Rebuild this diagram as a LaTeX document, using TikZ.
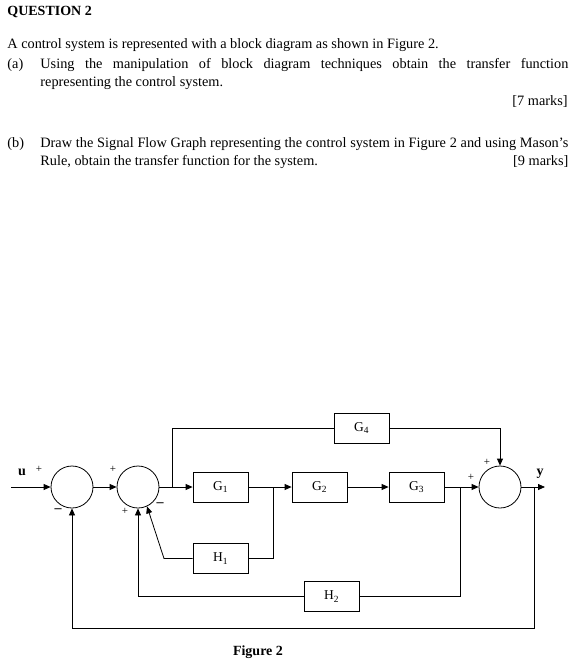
\documentclass[tikz,border=0pt]{standalone}
\usepackage{fontspec}
\setmainfont{Liberation Serif}
\usetikzlibrary{arrows.meta}

\begin{document}
\begin{tikzpicture}[x=1pt,y=-1pt,line width=0.8pt,
    >={Triangle[length=7pt,width=6pt]},
    txt/.style={anchor=base west,inner sep=0pt,font=\fontsize{14.3}{18.5}\selectfont},
    sumpt/.style={draw,circle,minimum size=42pt,inner sep=0pt},
    block/.style={draw,minimum width=55pt,minimum height=30pt,inner sep=0pt,font=\fontsize{13.5}{15}\selectfont},
    sign/.style={inner sep=0pt,font=\fontsize{11}{12}\selectfont},
    minus/.style={inner sep=0pt,font=\fontsize{14}{16}\selectfont\bfseries}]
  \useasboundingbox (0,0) rectangle (575,665);

  % question text
  \node[txt,font=\fontsize{14}{18}\selectfont\bfseries] (title) at (7,15) {QUESTION 2};
  \node[txt] (intro) at (7,48) {A control system is represented with a block diagram as shown in Figure 2.};
  \node[txt] (lbla) at (7,68) {(a)};
  \node[txt,text width=528pt,align=justify] (parta) at (40,68)
    {Using the manipulation of block diagram techniques obtain the transfer function\linebreak representing the control system.};
  \node[txt,anchor=base east] (marka) at (568,105) {[7 marks]};
  \node[txt] (lblb) at (7,147) {(b)};
  \node[txt,text width=528pt,align=justify] (partb) at (40,147)
    {Draw the Signal Flow Graph representing the control system in Figure 2 and using Mason’s\linebreak Rule, obtain the transfer function for the system.\hfill[9 marks]};

  % block diagram
  \node[sumpt] (s1) at (72,487) {};
  \node[sumpt] (s2) at (138,487) {};
  \node[sumpt] (s3) at (500,487) {};
  \node[block] (g1) at (220.5,487) {G\textsubscript{1}};
  \node[block] (g2) at (319.5,487) {G\textsubscript{2}};
  \node[block] (g3) at (416.5,487) {G\textsubscript{3}};
  \node[block] (g4) at (361.5,428) {G\textsubscript{4}};
  \node[block] (h1) at (220.5,558.5) {H\textsubscript{1}};
  \node[block] (h2) at (331.5,596.5) {H\textsubscript{2}};

  \coordinate (u) at (11,487);
  \coordinate (y) at (545,487);
  \coordinate (p1) at (172,487);
  \coordinate (p2) at (273,487);
  \coordinate (p3) at (460,487);
  \coordinate (p4) at (534,487);
  \coordinate (k1) at (164,558.5);
  \coordinate (k2) at (534,628);

  \draw[->] (u) -- (s1);
  \draw[->] (s1) -- (s2);
  \draw[->] (s2) -- (g1);
  \draw[->] (g1) -- (g2);
  \draw[->] (g2) -- (g3);
  \draw[->] (g3) -- (s3);
  \draw[->] (s3) -- (y);
  \draw (p1) |- (g4.west);
  \draw[->] (g4.east) -| (s3.north);
  \draw (p2) |- (h1.east);
  \draw[->] (h1.west) -- (k1) -- (s2.-65);
  \draw (p3) |- (h2.east);
  \draw[->] (h2.west) -| (s2.south);
  \draw[->] (p4) -- (k2) -| (s1.south);

  % signs and labels
  \node[txt,font=\fontsize{14}{16}\selectfont\bfseries,anchor=center] (ulbl) at (22,472) {u};
  \node[txt,font=\fontsize{14}{16}\selectfont\bfseries,anchor=center] (ylbl) at (540,474) {y};
  \node[sign] (pa) at (39,469) {+};
  \node[minus] (ma) at (58,511) {–};
  \node[sign] (pb) at (113,469) {+};
  \node[sign] (pc) at (125,511) {+};
  \node[minus] (mb) at (160,505) {–};
  \node[sign] (pd) at (487,462) {+};
  \node[sign] (pe) at (471,477) {+};
  \node[txt,font=\fontsize{14}{16}\selectfont\bfseries,anchor=center] (cap) at (258,652) {Figure 2};
\end{tikzpicture}
\end{document}
